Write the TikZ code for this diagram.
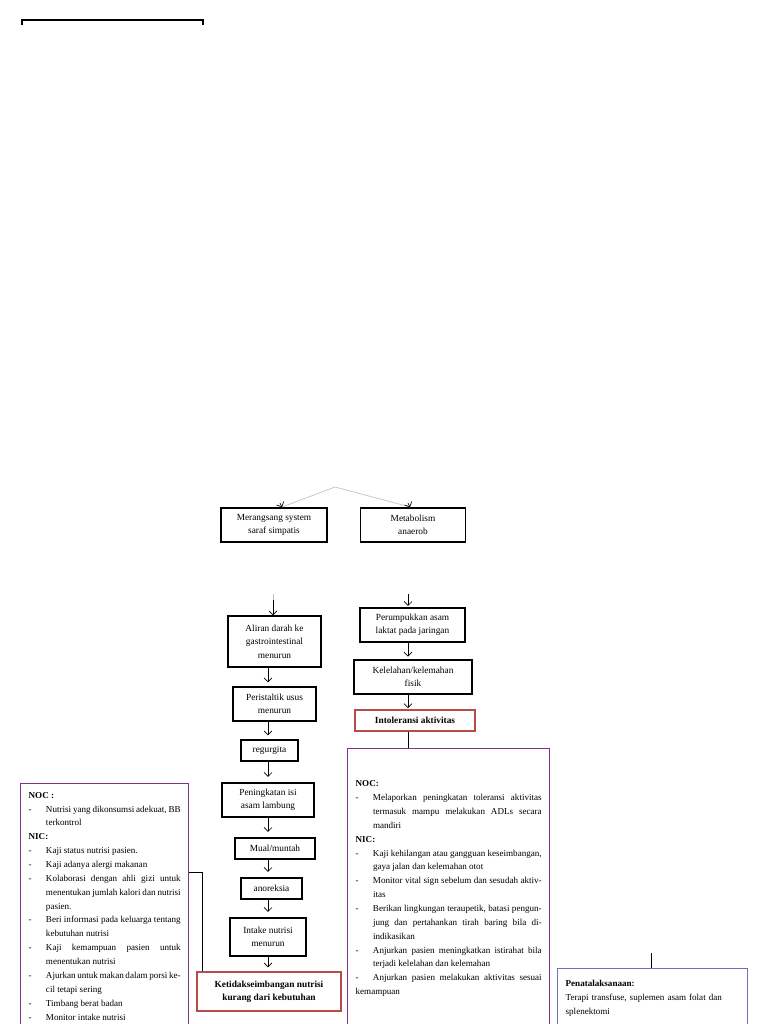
\documentclass[tikz,border=0pt]{standalone}
\usepackage{fontspec}
\setmainfont{Liberation Serif}
\usetikzlibrary{arrows.meta}
\newcommand{\ditem}{\par\hangindent=13pt\hangafter=1\noindent\makebox[13pt][l]{-}}
\begin{document}
\begin{tikzpicture}[x=0.75pt,y=-0.75pt,
  box/.style={draw,line width=1.1pt,align=center,font=\fontsize{7}{10}\selectfont,inner sep=1pt},
  redbox/.style={draw=red!60!black!70,line width=1pt,align=center,font=\bfseries\fontsize{7}{10}\selectfont,inner sep=1pt},
  listbox/.style={draw,line width=1pt,font=\fontsize{6.8}{10.4}\selectfont,align=justify,anchor=north west,inner xsep=6pt,inner ysep=4pt},
  arr/.style={-{Straight Barb[length=3pt,width=6pt]},line width=0.5pt},
  garr/.style={draw=gray!50,line width=0.5pt}]
\useasboundingbox (0,0) rectangle (768,1024);
\coordinate (cx) at (268,0);
\coordinate (cr) at (408,0);
\coordinate (tl) at (282,0);
\coordinate (tr) at (410,0);
% top-left line
\draw[line width=1pt] (22,25) -- (22,20) -- (203,20) -- (203,25);
% top boxes
\node[box,minimum width=106*0.75pt,minimum height=34*0.75pt] (m1) at (274,525) {Merangsang system\\saraf simpatis};
\node[box,minimum width=105*0.75pt,minimum height=34*0.75pt] (m2) at (413,525) {Metabolism\\anaerob};
\coordinate (top) at (335,487);
\draw[garr] (top) -- (282,507);
\draw[garr] (top) -- (410,507);
\draw[arr] (280,503) -- (m1.north -| tl);
\draw[arr] (408,503) -- (m2.north -| tr);
% left column
\node[box,minimum width=93*0.75pt,minimum height=51*0.75pt] (a1) at (274.5,641.5) {Aliran darah ke\\gastrointestinal\\menurun};
\coordinate (s1) at (273,594);
\draw[garr] (s1) -- (273,603);
\draw[arr] (273,600) -- (a1.north -| s1);
\node[box,minimum width=83*0.75pt,minimum height=34*0.75pt] (a2) at (274.5,704) {Peristaltik usus\\menurun};
\node[box,minimum width=57*0.75pt,minimum height=21*0.75pt] (a3) at (269.5,750.5) {regurgita};
\node[box,minimum width=92*0.75pt,minimum height=34*0.75pt] (a4) at (268,800) {Peningkatan isi\\asam lambung};
\node[box,minimum width=80*0.75pt,minimum height=21*0.75pt] (a5) at (275,848.5) {Mual/muntah};
\node[box,minimum width=61*0.75pt,minimum height=21*0.75pt] (a6) at (271.5,888.5) {anoreksia};
\node[box,minimum width=76*0.75pt,minimum height=38*0.75pt] (a7) at (268,937) {Intake nutrisi\\menurun};
\node[redbox,minimum width=144*0.75pt,minimum height=39*0.75pt] (a8) at (269,991.5) {Ketidakseimbangan nutrisi\\kurang dari kebutuhan};
\draw[arr] (a1.south -| cx) -- ([yshift=3pt]a2.north -| cx);
\draw[arr] (a2.south -| cx) -- ([yshift=3pt]a3.north -| cx);
\draw[arr] (a3.south -| cx) -- ([yshift=4pt]a4.north -| cx);
\draw[arr] (a4.south -| cx) -- ([yshift=4pt]a5.north -| cx);
\draw[arr] (a5.south -| cx) -- ([yshift=4pt]a6.north -| cx);
\draw[arr] (a6.south -| cx) -- ([yshift=4pt]a7.north -| cx);
\draw[arr] (a7.south -| cx) -- ([yshift=3pt]a8.north -| cx);
% right column
\coordinate (s2) at (408,594);
\node[box,minimum width=105*0.75pt,minimum height=34*0.75pt] (b1) at (412.5,625) {Perumpukkan asam\\laktat pada jaringan};
\node[box,minimum width=118*0.75pt,minimum height=34*0.75pt] (b2) at (413,677) {Kelelahan/kelemahan\\fisik};
\node[redbox,minimum width=120*0.75pt,minimum height=21*0.75pt] (b3) at (415,720.5) {Intoleransi aktivitas};
\draw[arr] (s2) -- ([yshift=1pt]b1.north -| cr);
\draw[arr] (b1.south -| cr) -- ([yshift=2pt]b2.north -| cr);
\draw[arr] (b2.south -| cr) -- ([yshift=1pt]b3.north -| cr);
% left list box
\node[listbox,draw=violet!60!gray,text width=152*0.75pt,minimum height=245*0.75pt] (L) at (20,783) {%
\textbf{NOC :}\ditem Nutrisi yang dikonsumsi adekuat, BB terkontrol
\par\noindent\textbf{NIC:}\ditem Kaji status nutrisi pasien.\ditem Kaji adanya alergi makanan\ditem Kolaborasi dengan ahli gizi untuk menentukan jumlah kalori dan nutrisi pasien.\ditem Beri informasi pada keluarga tentang kebutuhan nutrisi\ditem Kaji kemampuan pasien untuk menentukan nutrisi\ditem Ajurkan untuk makan dalam porsi kecil tetapi sering\ditem Timbang berat badan\ditem Monitor intake nutrisi};
\coordinate (lj) at (202,872);
\draw[line width=0.5pt] (L.east |- lj) -- (lj) -- (a8.north -| lj);
% middle list box
\node[listbox,draw=violet!60!gray,text width=186*0.75pt,minimum height=280*0.75pt] (M) at (347,748) {%
\textbf{NOC:}\ditem Melaporkan peningkatan toleransi aktivitas termasuk mampu melakukan ADLs secara mandiri
\par\noindent\textbf{NIC:}\ditem Kaji kehilangan atau gangguan keseimbangan, gaya jalan dan kelemahan otot\ditem Monitor vital sign sebelum dan sesudah aktivitas\ditem Berikan lingkungan teraupetik, batasi pengunjung dan pertahankan tirah baring bila diindikasikan\ditem Anjurkan pasien meningkatkan istirahat bila terjadi kelelahan dan kelemahan\ditem Anjurkan pasien melakukan aktivitas sesuai kemampuan};
\draw[line width=0.5pt] (b3.south -| cr) -- (M.north -| cr);
% right blue box
\node[listbox,draw=blue!40!gray!80,text width=174*0.75pt,minimum height=60*0.75pt,align=left,inner ysep=6pt] (R) at (557,968) {%
\textbf{Penatalaksanaan:}\\Terapi transfuse, suplemen asam folat dan splenektomi};
\coordinate (rt) at (651,953);
\draw[line width=0.5pt] (rt) -- (R.north -| rt);
\end{tikzpicture}
\end{document}
